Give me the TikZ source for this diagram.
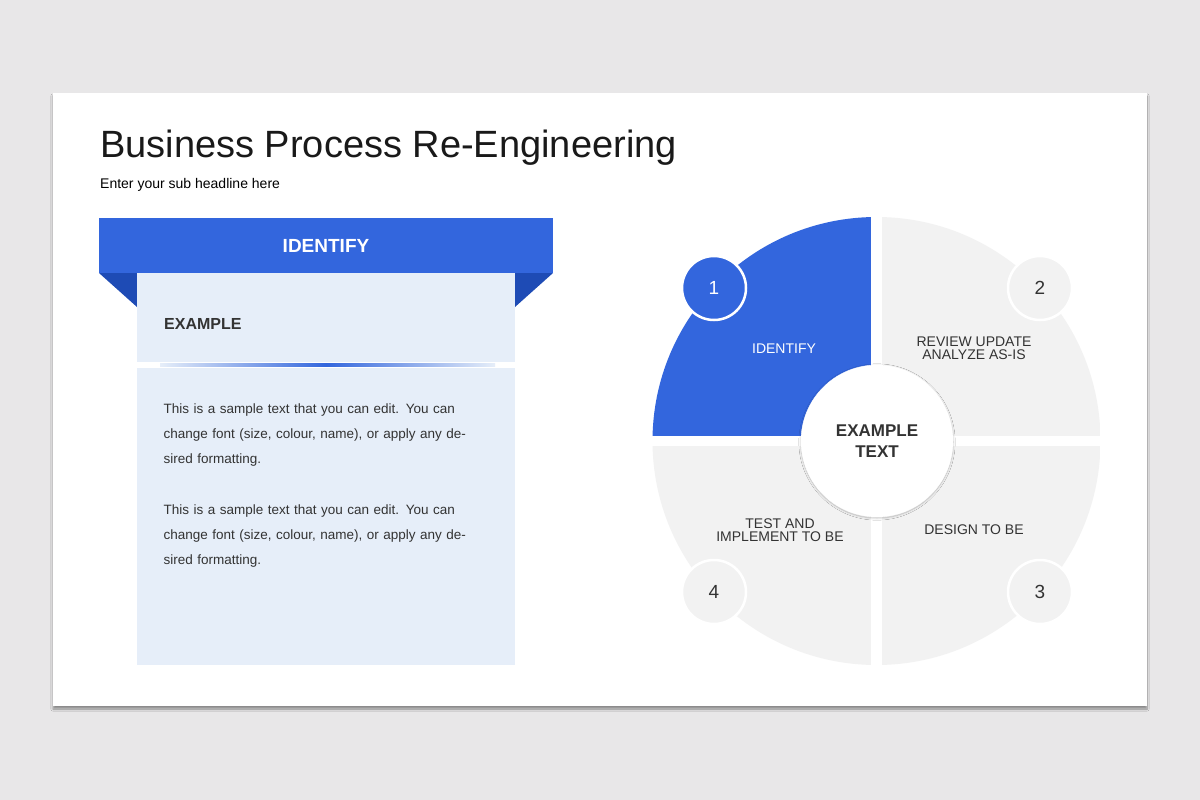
\documentclass[tikz,border=0pt]{standalone}
\usepackage{fontspec}
\setmainfont{Liberation Sans}
\usetikzlibrary{shadows.blur}
\definecolor{bg}{HTML}{E8E7E8}
\definecolor{blu}{HTML}{3366DD}
\definecolor{dblu}{HTML}{1E4BB5}
\definecolor{pale}{HTML}{E6EEF9}
\definecolor{gry}{HTML}{F2F2F2}
\definecolor{txt}{HTML}{333333}
\tikzset{
 num/.style={circle,minimum size=64pt,draw=white,line width=2.5pt,font=\fontsize{19}{19}\selectfont,text=txt,inner sep=0},
 lab/.style={font=\fontsize{14}{16}\selectfont,text=txt,align=center},
 body/.style={anchor=north west,font=\fontsize{13.5}{25}\selectfont,text=txt,align=left,text width=320pt}
}
\begin{document}
\begin{tikzpicture}[x=1pt,y=-1pt]
\fill[bg] (0,0) rectangle (1200,800);
\fill[white,blur shadow={shadow blur steps=8,shadow xshift=0pt,shadow yshift=-3pt}] (53,93) rectangle (1147,706);
\node[anchor=base west,inner sep=0,font=\fontsize{38}{40}\selectfont,text=black!90] (title) at (100,157) {Business Process Re-Engineering};
\node[anchor=base west,inner sep=0,font=\fontsize{14}{16}\selectfont] (sub) at (100,188) {Enter your sub headline here};
% left panel
\fill[dblu] (99,273) -- (137,273) -- (137,307) -- cycle;
\fill[dblu] (553,273) -- (515,273) -- (515,307) -- cycle;
\fill[pale] (137,273) rectangle (515,665);
\fill[blu] (99,218) rectangle (553,273);
\node[font=\bfseries\fontsize{19}{20}\selectfont,text=white] (ban) at (326,246) {IDENTIFY};
\node[anchor=west,inner sep=0,font=\bfseries\fontsize{16}{18}\selectfont,text=txt] (ex) at (164,324) {EXAMPLE};
\fill[white] (137,362) rectangle (515,368);
\shade[left color=pale,right color=blu] (160,363.5) rectangle (326,366.5);
\shade[left color=blu,right color=pale] (326,363.5) rectangle (495,366.5);
\node[body] (b1) at (160,400) {This is a sample text that you can edit. You can change font (size, colour, name), or apply any desired formatting.};
\node[body] (b2) at (160,501) {This is a sample text that you can edit. You can change font (size, colour, name), or apply any desired formatting.};
% circle quadrants
\begin{scope}
\clip (876.5,441) circle (224);
\fill[blu] (652,217) rectangle (871,436);
\fill[gry] (882,217) rectangle (1101,436);
\fill[gry] (652,446) rectangle (871,665);
\fill[gry] (882,446) rectangle (1101,665);
\end{scope}
\node[circle,fill=white,minimum size=152pt,draw=white,blur shadow={shadow blur steps=8,shadow xshift=0pt,shadow yshift=-1pt,shadow opacity=25},font=\bfseries\fontsize{17}{21}\selectfont,text=txt,align=center] (ctr) at (877,441) {EXAMPLE\\TEXT};
\node[num,fill=blu,text=white] (n1) at (714,288) {1};
\node[num,fill=gry] (n2) at (1040,288) {2};
\node[num,fill=gry] (n3) at (1040,592) {3};
\node[num,fill=gry] (n4) at (714,592) {4};
\node[lab,text=white] (l1) at (784,349) {IDENTIFY};
\node[lab] (l2) at (974,348) {REVIEW UPDATE\\[-3pt]ANALYZE AS-IS};
\node[lab] (l3) at (974,530) {DESIGN TO BE};
\node[lab] (l4) at (780,530) {TEST AND\\[-3pt]IMPLEMENT TO BE};
\end{tikzpicture}
\end{document}
